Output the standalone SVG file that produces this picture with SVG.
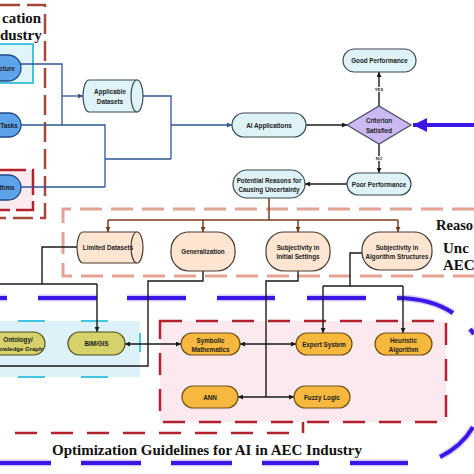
<svg xmlns="http://www.w3.org/2000/svg" width="474" height="474" viewBox="0 0 474 474">
<style>
.pc{fill:#def2f8;stroke:#3b4a52;stroke-width:1.2}
.pb{fill:#5ea3ea;stroke:#1f4b86;stroke-width:1.3}
.pr{fill:#fde5d1;stroke:#4a3b33;stroke-width:1.2}
.po{fill:#f6b83e;stroke:#6e5214;stroke-width:1.2}
.py{fill:#d5d16b;stroke:#4b4a22;stroke-width:1.2}
.pd{fill:#cbbaf2;stroke:#4a4a60;stroke-width:1.2}
.t{font-family:"Liberation Sans",Arial,sans-serif;font-weight:bold;font-size:6.3px;fill:#1b1b1b;text-anchor:middle;dominant-baseline:central}
.s{font-size:4.2px;paint-order:stroke;stroke:#fff;stroke-width:2}
.h{font-family:"Liberation Serif","Times New Roman",serif;font-weight:bold;font-size:15px;fill:#111}
.cb{stroke:#2f5597;stroke-width:1.3;fill:none}
.ck{stroke:#1a1a1a;stroke-width:1.4;fill:none}
.cr{stroke:#7b3a1c;stroke-width:1.5;fill:none}
.bl{stroke:#3b16e6;stroke-width:4;fill:none;stroke-linecap:butt}
.blg{stroke:#b7aef7;stroke-width:7;fill:none;opacity:.6}
.fr{stroke:#a5473a;stroke-width:2.5;fill:none;stroke-dasharray:20 7}
.rd{stroke:#b3202e;stroke-width:2.5;fill:none;stroke-dasharray:22 14}
.pk{stroke:#e3a393;stroke-width:3;fill:none;stroke-dasharray:22 9}
.cy{stroke:#45c4df;stroke-width:2;fill:none}
</style>
<defs>
<marker id="ab" viewBox="0 0 10 10" refX="10" refY="5" markerWidth="5" markerHeight="5" orient="auto-start-reverse" markerUnits="userSpaceOnUse"><path d="M0,0L10,5L0,10z" fill="#2f5597"/></marker>
<marker id="ak" viewBox="0 0 10 10" refX="10" refY="5" markerWidth="5" markerHeight="5" orient="auto-start-reverse" markerUnits="userSpaceOnUse"><path d="M0,0L10,5L0,10z" fill="#1a1a1a"/></marker>
<marker id="ar" viewBox="0 0 10 10" refX="10" refY="5" markerWidth="5" markerHeight="5" orient="auto-start-reverse" markerUnits="userSpaceOnUse"><path d="M0,0L10,5L0,10z" fill="#7b3a1c"/></marker>
<marker id="av" viewBox="0 0 10 10" refX="10" refY="5" markerWidth="14" markerHeight="15" orient="auto" markerUnits="userSpaceOnUse"><path d="M0,0L10,5L0,10z" fill="#3b16e6"/></marker>
</defs>
<rect width="474" height="474" fill="#fff"/>

<g id="regions">
<rect x="-5" y="44" width="38" height="39" fill="#e0f4fa"/>
<path class="cy" d="M0,44H33V83H0"/>
<rect x="-5" y="170" width="38" height="40" fill="#fbeaf0"/>
<path class="rd" d="M0,170H33V210H0" style="stroke-dasharray:26 6"/>
<path class="fr" d="M0,5H45V218H0"/>
<path class="pk" d="M474,209H63V276H474"/>
<rect x="0" y="321" width="140" height="56" fill="#dcf1f8"/>
<path class="cy" d="M0,321H138M0,377H138" style="stroke-dasharray:0 18 27 18"/>
<path class="cy" d="M140,333V352"/>
<rect x="160" y="321" width="286" height="101" fill="#fbe9ef"/>
<rect class="rd" x="160" y="321" width="286" height="101"/>
<path class="rd" d="M15,433H303V422"/>
</g>

<g id="outer-frame">
<path class="blg" d="M0,298H7M38,298H97M127,298H186M217,298H275M307,298H366M397,298Q430,298 453,313M470,329L474,334M0,463H51M81,463H141M171,463H232M262,463H319M350,463H408M440,457Q462,446 473,427"/>
<path class="bl" d="M0,298H7M38,298H97M127,298H186M217,298H275M307,298H366M397,298Q430,298 453,313M470,329L474,334M0,463H51M81,463H141M171,463H232M262,463H319M350,463H408M440,457Q462,446 473,427"/>
</g>

<g id="connectors">
<path class="cb" d="M21,64H62V125M21,125H105V187M21,187H105M105,159H171M143,96H171V159"/>
<path class="cb" d="M62,96H83" marker-end="url(#ab)"/>
<path class="cb" d="M171,125H232" marker-end="url(#ab)"/>
<path class="ck" d="M306,125H347" marker-end="url(#ak)"/>
<path class="ck" d="M379,106V72" marker-end="url(#ak)"/>
<path class="ck" d="M379,144V173" marker-end="url(#ak)"/>
<path class="ck" d="M347,184H305" marker-end="url(#ak)"/>
<path class="bl" d="M474,125H413" marker-end="url(#av)"/>
<path class="cr" d="M269,198V220M108,220H398"/>
<path class="cr" d="M108,220V232" marker-end="url(#ar)"/>
<path class="cr" d="M203,220V232" marker-end="url(#ar)"/>
<path class="cr" d="M298,220V232" marker-end="url(#ar)"/>
<path class="cr" d="M398,220V232" marker-end="url(#ar)"/>
<path class="ck" d="M77,247H42V284M0,284H97"/>
<path class="ck" d="M97,284V332" marker-end="url(#ak)"/>
<path class="ck" d="M203,271V281H148V366H0"/>
<path class="ck" d="M298,271V281H266V397"/>
<path class="ck" d="M125,344H181" marker-start="url(#ak)" marker-end="url(#ak)"/>
<path class="ck" d="M240,344H296" marker-start="url(#ak)" marker-end="url(#ak)"/>
<path class="ck" d="M238,397H294" marker-start="url(#ak)" marker-end="url(#ak)"/>
<path class="ck" d="M362,253H350V286M323,286H403"/>
<path class="ck" d="M323,286V333" marker-end="url(#ak)"/>
<path class="ck" d="M403,286V333" marker-end="url(#ak)"/>
</g>

<g id="n-structure"><rect class="pb" x="-20" y="55" width="41" height="26" rx="13"/><text class="t" x="7" y="68">cture</text></g>
<g id="n-tasks"><rect class="pb" x="-20" y="113" width="41" height="24" rx="12"/><text class="t" x="9" y="125">Tasks</text></g>
<g id="n-algorithms"><rect class="pb" x="-20" y="175" width="41" height="25" rx="12.5"/><text class="t" x="7" y="187.5">thms</text></g>

<g id="n-applicable-datasets">
<path class="pc" d="M89,80H137A6,16 0 0 1 137,112H89A6,16 0 0 1 89,80Z"/>
<path class="pc" d="M137,80A6,16 0 0 0 137,112" fill="none"/>
<text class="t" x="110" y="91">Applicable</text><text class="t" x="110" y="101">Datasets</text>
</g>
<g id="n-ai-applications"><rect class="pc" x="232" y="113" width="74" height="24" rx="12"/><text class="t" x="269" y="125">AI Applications</text></g>
<g id="n-criterion"><path class="pd" d="M347,125L379,106L411,125L379,144Z"/><text class="t" x="379" y="120" fill="#2b2b55">Criterion</text><text class="t" x="379" y="130">Satisfied</text></g>
<g id="n-good"><rect class="pc" x="343" y="49" width="73" height="23" rx="11.5"/><text class="t" x="379.5" y="60.5">Good Performance</text></g>
<g id="n-poor"><rect class="pc" x="347" y="173" width="64" height="22" rx="11"/><text class="t" x="379" y="184">Poor Performance</text></g>
<text class="t s" x="379" y="89">YES</text>
<text class="t s" x="379" y="158">NO</text>
<g id="n-potential"><rect class="pc" x="233" y="170" width="72" height="28" rx="14"/><text class="t" x="269" y="180">Potential Reasons for</text><text class="t" x="269" y="189">Causing Uncertainty</text></g>

<g id="n-limited">
<path class="pr" d="M83,232H137A6,15.5 0 0 1 137,263H83A6,15.5 0 0 1 83,232Z"/>
<path class="pr" d="M137,232A6,15.5 0 0 0 137,263" fill="none"/>
<text class="t" x="108" y="247.5">Limited Datasets</text>
</g>
<g id="n-generalization"><rect class="pr" x="171" y="232" width="64" height="39" rx="18"/><text class="t" x="203" y="251.5">Generalization</text></g>
<g id="n-subj-initial"><rect class="pr" x="266" y="232" width="64" height="39" rx="18"/><text class="t" x="298" y="247">Subjectivity in</text><text class="t" x="298" y="256">Initial Settings</text></g>
<g id="n-subj-algorithm"><rect class="pr" x="362" y="232" width="70" height="38" rx="18"/><text class="t" x="397" y="247">Subjectivity in</text><text class="t" x="397" y="256">Algorithm Structures</text></g>

<g id="n-ontology"><rect class="py" x="-20" y="332" width="65" height="23" rx="11.5"/><text class="t" x="18" y="339">Ontology/</text><text class="t" x="21" y="348.5" style="font-size:6px">owledge Graph</text></g>
<g id="n-bimgis"><rect class="py" x="68" y="332" width="57" height="23" rx="11.5"/><text class="t" x="96.5" y="343.5">BIM/GIS</text></g>
<g id="n-symbolic"><rect class="po" x="181" y="333" width="59" height="22" rx="11"/><text class="t" x="210.5" y="340">Symbolic</text><text class="t" x="210.5" y="349">Mathematics</text></g>
<g id="n-expert"><rect class="po" x="296" y="333" width="56" height="22" rx="11"/><text class="t" x="324" y="344">Expert System</text></g>
<g id="n-heuristic"><rect class="po" x="375" y="333" width="57" height="22" rx="11"/><text class="t" x="403.5" y="340">Heuristic</text><text class="t" x="403.5" y="349">Algorithm</text></g>
<g id="n-ann"><rect class="po" x="182" y="386" width="56" height="22" rx="11"/><text class="t" x="210" y="397">ANN</text></g>
<g id="n-fuzzy"><rect class="po" x="294" y="386" width="56" height="22" rx="11"/><text class="t" x="322" y="397">Fuzzy Logic</text></g>

<g id="titles">
<text class="h" x="2" y="23">cation</text>
<text class="h" x="0" y="40">dustry</text>
<text class="h" x="436" y="230" style="font-size:14.5px">Reaso</text>
<text class="h" x="443" y="253">Unc</text>
<text class="h" x="443" y="270">AEC</text>
<text class="h" x="52" y="455" textLength="310" lengthAdjust="spacingAndGlyphs">Optimization Guidelines for AI in AEC Industry</text>
</g>
</svg>
